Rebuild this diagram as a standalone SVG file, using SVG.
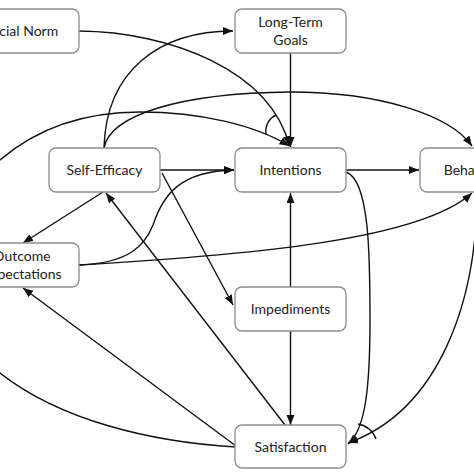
<svg xmlns="http://www.w3.org/2000/svg" width="474" height="474" viewBox="0 0 474 474">
<style>
.box{fill:#fff;stroke:#8c8c8c;stroke-width:1.3}
.lbl{font-family:Lato,"Liberation Sans",sans-serif;font-size:14px;fill:#222;text-anchor:middle}
.c{fill:none;stroke:#111;stroke-width:1.4}
</style>
<defs>
<marker id="ah" markerUnits="userSpaceOnUse" markerWidth="11" markerHeight="9" refX="10" refY="4" orient="auto">
<path d="M0,0 L10,4 L0,8 z" fill="#111"/>
</marker>
</defs>
<rect width="474" height="474" fill="#fff"/>
<g id="connectors">
<path class="c" d="M79,31 C170,32 270,70 289.5,146" marker-end="url(#ah)"/>
<path class="c" d="M104,148 C106,70 160,31 233,31" marker-end="url(#ah)"/>
<path class="c" d="M104,148 C110,115 180,93 290,92 C380,92 450,115 472,146" marker-end="url(#ah)"/>
<path class="c" d="M236,447 C150,442 60,420 0,373 C-60,326 -60,210 0,160 C35,130 80,112 140,112 C200,112 255,125 289.5,146" marker-end="url(#ah)"/>
<path class="c" d="M266,134 A18,18 0 0 1 276,115"/>
<line class="c" x1="290.5" y1="53" x2="290.5" y2="147" marker-end="url(#ah)"/>
<line class="c" x1="160" y1="170" x2="234" y2="170" marker-end="url(#ah)"/>
<path class="c" d="M79,265 C130,263 145,245 153,225 C163,195 180,171 234,170" marker-end="url(#ah)"/>
<line class="c" x1="162" y1="173" x2="233" y2="305" marker-end="url(#ah)"/>
<line class="c" x1="103" y1="192" x2="23" y2="243" marker-end="url(#ah)"/>
<line class="c" x1="285" y1="425" x2="106" y2="193" marker-end="url(#ah)"/>
<line class="c" x1="236" y1="446" x2="23" y2="288" marker-end="url(#ah)"/>
<path class="c" d="M79,265 C250,255 420,240 472,193" marker-end="url(#ah)"/>
<line class="c" x1="346" y1="170" x2="419" y2="170" marker-end="url(#ah)"/>
<line class="c" x1="290.5" y1="287" x2="290.5" y2="193" marker-end="url(#ah)"/>
<line class="c" x1="290.5" y1="331" x2="290.5" y2="425" marker-end="url(#ah)"/>
<path class="c" d="M346,172 C370,180 370,260 370,320 C370,390 365,430 348,444" marker-end="url(#ah)"/>
<path class="c" d="M477,192 C477,300 440,410 348,443" marker-end="url(#ah)"/>
<path class="c" d="M358,424 A23,23 0 0 1 376,439"/>
</g>
<g id="social-norm"><rect class="box" x="-32" y="9" width="111" height="44" rx="7"/><text class="lbl" x="21" y="36">Social Norm</text></g>
<g id="long-term-goals"><rect class="box" x="235" y="9" width="111" height="44" rx="7"/><text class="lbl" x="290.5" y="27">Long-Term</text><text class="lbl" x="290.5" y="45">Goals</text></g>
<g id="self-efficacy"><rect class="box" x="49" y="148" width="111" height="44" rx="7"/><text class="lbl" x="104.5" y="175">Self-Efficacy</text></g>
<g id="intentions"><rect class="box" x="235" y="148" width="111" height="44" rx="7"/><text class="lbl" x="290.5" y="175">Intentions</text></g>
<g id="behavior"><rect class="box" x="420" y="148" width="111" height="44" rx="7"/><text class="lbl" x="471" y="175">Behavior</text></g>
<g id="outcome-expectations"><rect class="box" x="-32" y="243" width="111" height="44" rx="7"/><text class="lbl" x="22" y="261">Outcome</text><text class="lbl" x="22" y="279">Expectations</text></g>
<g id="impediments"><rect class="box" x="235" y="287" width="111" height="44" rx="7"/><text class="lbl" x="290.5" y="314">Impediments</text></g>
<g id="satisfaction"><rect class="box" x="235" y="425" width="111" height="43" rx="7"/><text class="lbl" x="290.5" y="452">Satisfaction</text></g>
</svg>
